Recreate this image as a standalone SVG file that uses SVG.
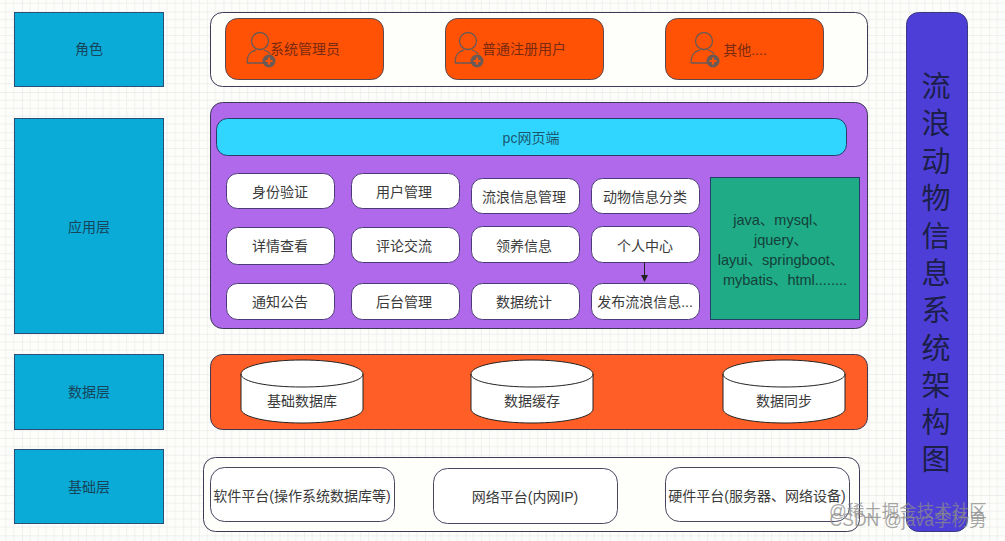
<svg xmlns="http://www.w3.org/2000/svg" width="1005" height="541" viewBox="0 0 1005 541">
<style>
text{font-family:"Liberation Sans","Noto Sans CJK SC",sans-serif;font-size:14px;fill:#3a3a3a;text-anchor:middle;dominant-baseline:central}
.layer{fill:#0aabd6;stroke:#2b4f78;stroke-width:1}
.layer+text{fill:#17455c}
.panel{stroke:#3d3a55;stroke-width:1}
.role{fill:#ff5204;stroke:#5a4a50;stroke-width:1}
.rolet{fill:#7a2a10}
.item{fill:#fff;stroke:#4b3a78;stroke-width:1}
.plat{fill:#fff;stroke:#4a4660;stroke-width:1}
.db{fill:#fff;stroke:#222;stroke-width:1}
.ic{fill:none;stroke:#6a5a55;stroke-width:1.3}
.tt{fill:#143f3a;font-size:14.500px}
.ti{font-size:29px;fill:#1b1f4a}
.wm{fill:#8a8a8a;fill-opacity:.75;font-size:17.500px}
</style>
<defs>
<pattern id="g" width="40.3" height="40.3" patternUnits="userSpaceOnUse" x="22" y="11.4">
<path d="M8.06 0V40.3M16.12 0V40.3M24.18 0V40.3M32.24 0V40.3M0 8.06H40.3M0 16.12H40.3M0 24.18H40.3M0 32.24H40.3" fill="none" stroke="#f0f0ec" stroke-width="1"/>
<path d="M0 0V40.3M0 0H40.3" fill="none" stroke="#e2e2de" stroke-width="1"/>
</pattern>
<g id="user">
<circle cx="0" cy="-9" r="8.5" class="ic"/>
<path d="M-13 13C-13 3-8 1-4 0M4 0C7 1 9 2 10 4M-13 13H4" class="ic"/>
<circle cx="9" cy="11" r="6.500" fill="#6a5a55"/>
<path d="M5.500 11H12.500M9 7.500V14.500" stroke="#ff5204" stroke-width="2.200"/>
</g>
</defs>
<rect width="1005" height="541" fill="#fdfdfb"/>
<rect width="1005" height="541" fill="url(#g)"/>

<g id="layer-role"><rect class="layer" x="14.500" y="12.500" width="149" height="74"/><text x="89" y="49">角色</text></g>
<g id="layer-app"><rect class="layer" x="14.500" y="118.500" width="149" height="215"/><text x="89" y="227">应用层</text></g>
<g id="layer-data"><rect class="layer" x="14.500" y="354.500" width="149" height="75"/><text x="89" y="392">数据层</text></g>
<g id="layer-base"><rect class="layer" x="14.500" y="449.500" width="149" height="74"/><text x="89" y="487">基础层</text></g>

<g id="panel-role"><rect class="panel" x="210.500" y="12.500" width="657" height="74" rx="12" fill="#fefefb"/></g>
<g id="panel-app"><rect class="panel" x="210.500" y="102.500" width="657" height="226" rx="12" fill="#b169eb"/></g>
<g id="panel-data"><rect class="panel" x="210.500" y="354.500" width="657" height="75" rx="12" fill="#ff5f26"/></g>
<g id="panel-base"><rect class="panel" x="203.500" y="457.500" width="656" height="74" rx="12" fill="#fefefb"/></g>

<g id="role-admin"><rect class="role" x="225.500" y="18.500" width="158" height="61" rx="12"/><use href="#user" x="260" y="50"/><text class="rolet" x="305" y="49">系统管理员</text></g>
<g id="role-user"><rect class="role" x="445.500" y="18.500" width="158" height="61" rx="12"/><use href="#user" x="468" y="50"/><text class="rolet" x="524" y="49">普通注册用户</text></g>
<g id="role-other"><rect class="role" x="665.500" y="18.500" width="158" height="61" rx="12"/><use href="#user" x="704" y="50"/><text class="rolet" x="745" y="50">其他....</text></g>

<g id="pc"><rect x="216.500" y="118.500" width="630" height="37" rx="11" fill="#30d6ff" stroke="#2a3a6a"/><text x="531" y="138" style="fill:#1c5870">pc网页端</text></g>

<g id="n1"><rect class="item" x="226.500" y="173.500" width="108" height="35" rx="11"/><text x="280" y="192">身份验证</text></g>
<g id="n2"><rect class="item" x="351.500" y="173.500" width="108" height="35" rx="11"/><text x="404" y="192">用户管理</text></g>
<g id="n3"><rect class="item" x="471.500" y="178.500" width="108" height="35" rx="11"/><text x="524" y="197">流浪信息管理</text></g>
<g id="n4"><rect class="item" x="591.500" y="178.500" width="108" height="35" rx="11"/><text x="645" y="197">动物信息分类</text></g>
<g id="n5"><rect class="item" x="226.500" y="227.500" width="108" height="37" rx="11"/><text x="280" y="246">详情查看</text></g>
<g id="n6"><rect class="item" x="351.500" y="227.500" width="108" height="35" rx="11"/><text x="404" y="246">评论交流</text></g>
<g id="n7"><rect class="item" x="471.500" y="226.500" width="108" height="36" rx="11"/><text x="524" y="246">领养信息</text></g>
<g id="n8"><rect class="item" x="591.500" y="226.500" width="108" height="36" rx="11"/><text x="645" y="246">个人中心</text></g>
<g id="n9"><rect class="item" x="226.500" y="283.500" width="108" height="36" rx="11"/><text x="280" y="302">通知公告</text></g>
<g id="n10"><rect class="item" x="351.500" y="283.500" width="108" height="36" rx="11"/><text x="404" y="302">后台管理</text></g>
<g id="n11"><rect class="item" x="471.500" y="283.500" width="108" height="36" rx="11"/><text x="524" y="302">数据统计</text></g>
<g id="n12"><rect class="item" x="591.500" y="283.500" width="108" height="36" rx="11"/><text x="645" y="302">发布流浪信息...</text></g>

<g id="tech"><rect x="710.500" y="177.500" width="149" height="142" fill="#1fab85" stroke="#24406a"/>
<text class="tt" x="780" y="220">java、mysql、</text>
<text class="tt" x="781" y="240">jquery、</text>
<text class="tt" x="781" y="260">layui、springboot、</text>
<text class="tt" x="785" y="280">mybatis、html........</text></g>

<g id="db1"><path class="db" d="M241 374C241 366 268 360 302 360S363 366 363 374V409C363 417 336 423 302 423S241 417 241 409Z"/><path class="db" fill="none" style="fill:none" d="M241 374C241 382 268 387 302 387S363 382 363 374"/><text x="302" y="401">基础数据库</text></g>
<g id="db2"><path class="db" d="M471 374C471 366 498 360 532 360S593 366 593 374V409C593 417 566 423 532 423S471 417 471 409Z"/><path class="db" style="fill:none" d="M471 374C471 382 498 387 532 387S593 382 593 374"/><text x="532" y="401">数据缓存</text></g>
<g id="db3"><path class="db" d="M723 374C723 366 750 360 784 360S845 366 845 374V409C845 417 818 423 784 423S723 417 723 409Z"/><path class="db" style="fill:none" d="M723 374C723 382 750 387 784 387S845 382 845 374"/><text x="784" y="401">数据同步</text></g>

<g id="p1"><rect class="plat" x="210.500" y="467.500" width="184" height="54" rx="14"/><text x="302" y="496">软件平台(操作系统数据库等)</text></g>
<g id="p2"><rect class="plat" x="433.500" y="468.500" width="184" height="55" rx="14"/><text x="525" y="497">网络平台(内网IP)</text></g>
<g id="p3"><rect class="plat" x="665.500" y="467.500" width="184" height="54" rx="14"/><text x="757" y="496">硬件平台(服务器、网络设备)</text></g>

<g id="title"><rect x="906.500" y="12.500" width="61" height="519" rx="12" fill="#4e3ed8" stroke="#3a3a80"/>
<text class="ti" x="936" y="87">流</text>
<text class="ti" x="936" y="124">浪</text>
<text class="ti" x="936" y="162">动</text>
<text class="ti" x="936" y="199">物</text>
<text class="ti" x="936" y="237">信</text>
<text class="ti" x="936" y="274">息</text>
<text class="ti" x="936" y="311">系</text>
<text class="ti" x="936" y="349">统</text>
<text class="ti" x="936" y="386">架</text>
<text class="ti" x="936" y="423">构</text>
<text class="ti" x="936" y="460">图</text>
</g>

<g id="connectors">
<path d="M644.500 262V276" stroke="#222" stroke-width="1" fill="none"/>
<path d="M641 275H648L644.500 282Z" fill="#222"/>
</g>

<g id="watermark">
<text class="wm" x="908" y="511">@稀土掘金技术社区</text>
<text class="wm" x="908" y="520">CSDN @java李杨勇</text>
</g>
</svg>
